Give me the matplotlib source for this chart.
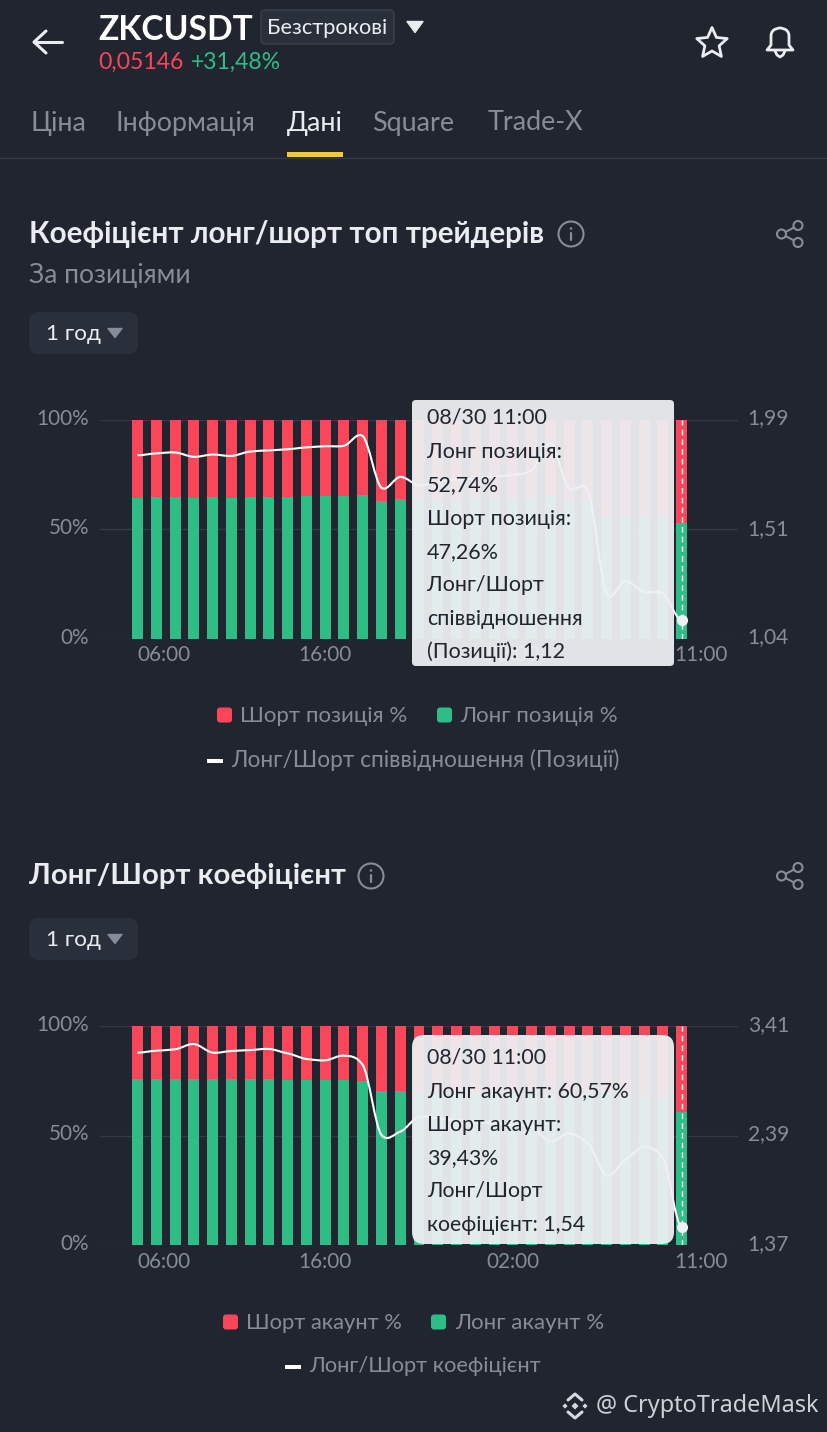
import numpy as np
import matplotlib
matplotlib.use('Agg')
import matplotlib.pyplot as plt
from matplotlib.patches import FancyBboxPatch, Polygon, Circle, PathPatch, Rectangle
from matplotlib.path import Path
from matplotlib.transforms import Affine2D

plt.rcParams['font.family'] = ['Lato', 'Noto Sans', 'DejaVu Sans']

# chart data
time_labels = ['06:00', '16:00', '02:00', '11:00']
time_index = [0, 10, 20, 29]
pct_ticks = [0, 50, 100]
pct_labels = ['0%', '50%', '100%']

top_long = [64.3, 64.4, 64.4, 64.3, 64.4, 64.3, 64.6, 64.6, 64.7, 64.9,
            65.0, 65.0, 65.5, 62.7, 63.5, 63.2, 63.4, 63.4, 63.5, 63.5,
            63.6, 63.6, 65.0, 63.0, 62.6, 55.6, 55.6, 55.5, 55.5, 52.74]
top_ratio = [1.835, 1.843, 1.847, 1.828, 1.838, 1.832, 1.851, 1.856, 1.861, 1.869,
             1.874, 1.876, 1.918, 1.694, 1.741, 1.705, 1.720, 1.730, 1.734, 1.744,
             1.749, 1.770, 1.886, 1.691, 1.680, 1.235, 1.289, 1.242, 1.235, 1.12]
top_ratio_ticks = [1.04, 1.51, 1.99]
top_ratio_labels = ['1,04', '1,51', '1,99']

bot_long = [75.6, 75.7, 75.7, 76.0, 75.7, 75.7, 75.7, 75.7, 75.5, 75.3,
            75.2, 75.3, 74.8, 70.3, 70.2, 69.6, 69.4, 69.3, 69.2, 69.2,
            69.2, 69.2, 69.3, 69.2, 69.3, 69.2, 67.4, 67.4, 67.4, 60.57]
bot_ratio = [3.162, 3.180, 3.193, 3.242, 3.162, 3.177, 3.186, 3.196, 3.155, 3.103,
             3.090, 3.134, 3.047, 2.395, 2.426, 2.565, 2.550, 2.534, 2.519, 2.503,
             2.488, 2.472, 2.333, 2.410, 2.317, 2.013, 2.162, 2.286, 2.177, 1.54]
bot_ratio_ticks = [1.37, 2.39, 3.41]
bot_ratio_labels = ['1,37', '2,39', '3,41']

top_tooltip = ['08/30 11:00', 'Лонг позиція:', '52,74%', 'Шорт позиція:', '47,26%',
               'Лонг/Шорт', 'співвідношення', '(Позиції): 1,12']
bot_tooltip = ['08/30 11:00', 'Лонг акаунт: 60,57%', 'Шорт акаунт:', '39,43%',
               'Лонг/Шорт', 'коефіцієнт: 1,54']

BG = '#20252F'
RED = '#FB4659'
GREEN = '#2EBD85'
GREY = '#868D98'
WHITE = '#EAECEF'
PANEL = '#2A303B'
W, H = 828, 1432

fig = plt.figure(figsize=(W / 100, H / 100), dpi=100, facecolor=BG)


def px(size):
    return size * 72 / 100


def smooth_path(x, y):
    # cardinal spline through the points, like the app's smooth line
    x = np.asarray(x, float)
    y = np.asarray(y, float)
    m = np.zeros(len(y))
    m[1:-1] = 0.7 * (y[2:] - y[:-2]) / 2
    verts = [(x[0], y[0])]
    codes = [Path.MOVETO]
    for i in range(len(x) - 1):
        verts += [(x[i] + 1 / 3, y[i] + m[i] / 3),
                  (x[i + 1] - 1 / 3, y[i + 1] - m[i + 1] / 3),
                  (x[i + 1], y[i + 1])]
        codes += [Path.CURVE4] * 3
    return Path(verts, codes)


def shift(label, dx, dy):
    label.set_transform(label.get_transform() + Affine2D().translate(dx, dy))


def draw_chart(top, long_pct, ratio, ratio_ticks, ratio_labels):
    # top/bottom of the plot area in pixels, plot is 219 px high
    ax = fig.add_axes([100 / W, 1 - (top + 219) / H, 638 / W, 219 / H])
    ax.patch.set_visible(False)
    idx = np.arange(len(long_pct))
    long_pct = np.array(long_pct)
    ax.bar(idx, long_pct, width=0.58, color=GREEN, zorder=2)
    ax.bar(idx, 100 - long_pct, bottom=long_pct, width=0.58, color=RED, zorder=2)
    ax.set_xlim(-2, 32)
    ax.set_ylim(0, 100)
    ax.set_yticks(pct_ticks, pct_labels)
    ax.set_xticks(time_index, time_labels)
    ax.grid(axis='y', color='#343A45', linewidth=1, zorder=0)
    ax.set_axisbelow(True)
    ax.tick_params(length=0, labelcolor=GREY, labelsize=px(20.8))
    ax.tick_params(axis='y', pad=8)
    ax.tick_params(axis='x', pad=5)
    for s in ax.spines.values():
        s.set_visible(False)
    for lab in ax.get_yticklabels():
        shift(lab, 0, 3)
    labs = ax.get_xticklabels()
    shift(labs[0], 26, 0)
    shift(labs[3], 19, 0)

    ax2 = ax.twinx()
    ax2.patch.set_visible(False)
    ax2.set_ylim(ratio_ticks[0], ratio_ticks[-1])
    ax2.set_yticks(ratio_ticks, ratio_labels)
    ax2.tick_params(length=0, labelcolor=GREY, labelsize=px(21), pad=7)
    for s in ax2.spines.values():
        s.set_visible(False)
    for lab in ax2.get_yticklabels():
        shift(lab, 0, 3)
    ax2.add_patch(PathPatch(smooth_path(idx, ratio), fc='none', ec='white', lw=1.5, zorder=3))
    ax2.plot([idx[-1], idx[-1]], [ratio_ticks[0], ratio_ticks[-1]], color='white',
             lw=1, ls=(0, (4, 3)), zorder=3)
    ax2.plot(idx[-1], ratio[-1], 'o', color='#F0F1F3', ms=7, zorder=4)


draw_chart(419.5, top_long, top_ratio, top_ratio_ticks, top_ratio_labels)
draw_chart(1026, bot_long, bot_ratio, bot_ratio_ticks, bot_ratio_labels)

# everything around the charts, coordinates in screenshot pixels
ui = fig.add_axes([0, 0, 1, 1], zorder=10)
ui.set_xlim(0, W)
ui.set_ylim(H, 0)
ui.axis('off')


def label(x, y, s, size, color=GREY, weight='normal', ha='left', family=None):
    kw = {'family': family} if family else {}
    ui.text(x, y + 2, s, fontsize=px(size), color=color, fontweight=weight, ha=ha, va='center', **kw)


def rbox(x0, y0, x1, y1, r, fc, ec='none', alpha=None, lw=1):
    ui.add_patch(FancyBboxPatch((x0, y0), x1 - x0, y1 - y0, boxstyle=f'round,pad=0,rounding_size={r}',
                                fc=fc, ec=ec, alpha=alpha, lw=lw))


def line(xs, ys, color=WHITE, lw=2.0):
    ui.plot(xs, ys, color=color, lw=lw, solid_capstyle='round', solid_joinstyle='round')


def info_icon(x, y):
    ui.add_patch(Circle((x, y), 12.5, fc='none', ec=GREY, lw=1.5))
    line([x, x], [y - 1, y + 6], GREY, 1.6)
    ui.add_patch(Circle((x, y - 5.5), 1.3, fc=GREY, ec='none'))


def share_icon(x, y):
    a, b, c = (x + 8, y - 8.5), (x - 8.5, y), (x + 8, y + 8.5)
    line([a[0], b[0], c[0]], [a[1], b[1], c[1]], GREY, 1.5)
    for p in (a, b, c):
        ui.add_patch(Circle(p, 4.5, fc=BG, ec=GREY, lw=1.5, zorder=5))


def tri(x, y, w, h, color):
    ui.add_patch(Polygon([(x - w / 2, y - h / 2), (x + w / 2, y - h / 2), (x, y + h / 2)], fc=color, ec=color,
                         lw=1, joinstyle='round'))


def legend_mark(x0, x1, y, color):
    rbox(x0, y - 7.5, x1, y + 7.5, 3, color)


# header
line([34, 62], [42, 42], WHITE, 2.2)
line([46, 34, 46], [31, 42, 53], WHITE, 2.2)
label(98, 28, 'ZKCUSDT', 33.6, 'white', 'bold')
rbox(261, 10, 394, 44, 4, PANEL, '#3A414D')
label(327.5, 26, 'Безстрокові', 21.9, WHITE, ha='center')
tri(415, 27, 16, 11, WHITE)
label(98, 60, '0,05146', 23, RED)
label(191, 60, '+31,48%', 23, GREEN)

star_a = np.deg2rad(np.arange(10) * 36 - 90)
star_r = np.array([16, 7.5] * 5)
ui.add_patch(Polygon(np.c_[712 + star_r * np.cos(star_a), 43.5 + star_r * np.sin(star_a)],
                     fc='none', ec=WHITE, lw=2, joinstyle='round'))
bell = Path([(767, 50), (771, 45), (771, 36), (771, 28), (780, 28), (780, 28), (780, 28), (789, 28),
             (789, 36), (789, 45), (793, 50), (767, 50)],
            [Path.MOVETO, Path.LINETO, Path.LINETO, Path.CURVE4, Path.CURVE4, Path.CURVE4, Path.CURVE4,
             Path.CURVE4, Path.CURVE4, Path.LINETO, Path.LINETO, Path.CLOSEPOLY])
ui.add_patch(PathPatch(bell, fc='none', ec=WHITE, lw=2, joinstyle='round'))
line([775, 777, 780, 783, 785], [51, 55, 57, 55, 51], WHITE, 2)

# tabs
tab_names = ['Ціна', 'Інформація', 'Дані', 'Square', 'Trade-X']
tab_x = [31, 116, 287, 372, 488]
for name, x in zip(tab_names, tab_x):
    label(x, 121, name, 26.9, WHITE if name == 'Дані' else GREY)
ui.plot([0, W], [157.5, 157.5], color='#343A45', lw=1)
ui.add_patch(Rectangle((287, 152), 56, 5, fc='#F0C93C', ec='none'))

# first section
label(29, 232, 'Коефіцієнт лонг/шорт топ трейдерів', 29.6, WHITE, 'bold')
info_icon(571, 234)
share_icon(790, 234)
label(29, 273, 'За позиціями', 26.5)
rbox(29, 312, 138, 354, 9, PANEL)
label(46, 332, '1 год', 22.5, WHITE)
tri(115, 333, 14, 9, GREY)

legend_mark(217, 232, 715, RED)
label(240, 714, 'Шорт позиція %', 22.3)
legend_mark(437, 452, 715, GREEN)
label(460, 714, 'Лонг позиція %', 22.3)
ui.add_patch(Rectangle((207, 759), 16, 4, fc='white', ec='none'))
label(231, 758, 'Лонг/Шорт співвідношення (Позиції)', 22.6)

rbox(412, 400, 674, 666, 4, '#EEF0F3', alpha=0.94)
for y, s in zip([416, 450, 483, 517, 550, 583, 617, 650], top_tooltip):
    label(427, y, s, 21.5, '#20252F')

# second section
label(29, 874, 'Лонг/Шорт коефіцієнт', 29.2, WHITE, 'bold')
info_icon(371, 876)
share_icon(790, 876)
rbox(29, 918, 138, 960, 9, PANEL)
label(46, 938, '1 год', 22.5, WHITE)
tri(115, 939, 14, 9, GREY)

legend_mark(223, 238, 1322, RED)
label(246, 1321, 'Шорт акаунт %', 22)
legend_mark(431, 446, 1322, GREEN)
label(455, 1321, 'Лонг акаунт %', 22.3)
ui.add_patch(Rectangle((285, 1365), 16, 4, fc='white', ec='none'))
label(309, 1364, 'Лонг/Шорт коефіцієнт', 21.9)

rbox(412, 1035, 674, 1244, 12, '#EEF0F3', alpha=0.94)
for y, s in zip([1056, 1090, 1123, 1156, 1189, 1223], bot_tooltip):
    label(427, y, s, 21.3, '#20252F')

# watermark
LOGO = '#D5D8DC'
lx, ly = 575, 1406
for dx, dy, r in [(0, 0, 3.5), (-10, 0, 2.6), (10, 0, 2.6)]:
    ui.add_patch(Polygon([(lx + dx - r, ly + dy), (lx + dx, ly + dy - r), (lx + dx + r, ly + dy), (lx + dx, ly + dy + r)],
                         fc=LOGO, ec='none'))
line([lx - 7, lx, lx + 7], [ly - 6, ly - 12, ly - 6], LOGO, 2.2)
line([lx - 7, lx, lx + 7], [ly + 6, ly + 12, ly + 6], LOGO, 2.2)
label(596, 1404, '@ CryptoTradeMask', 23.5, '#CDD0D5', family='Noto Sans')

fig.savefig('out.png', dpi=100, facecolor=BG)
